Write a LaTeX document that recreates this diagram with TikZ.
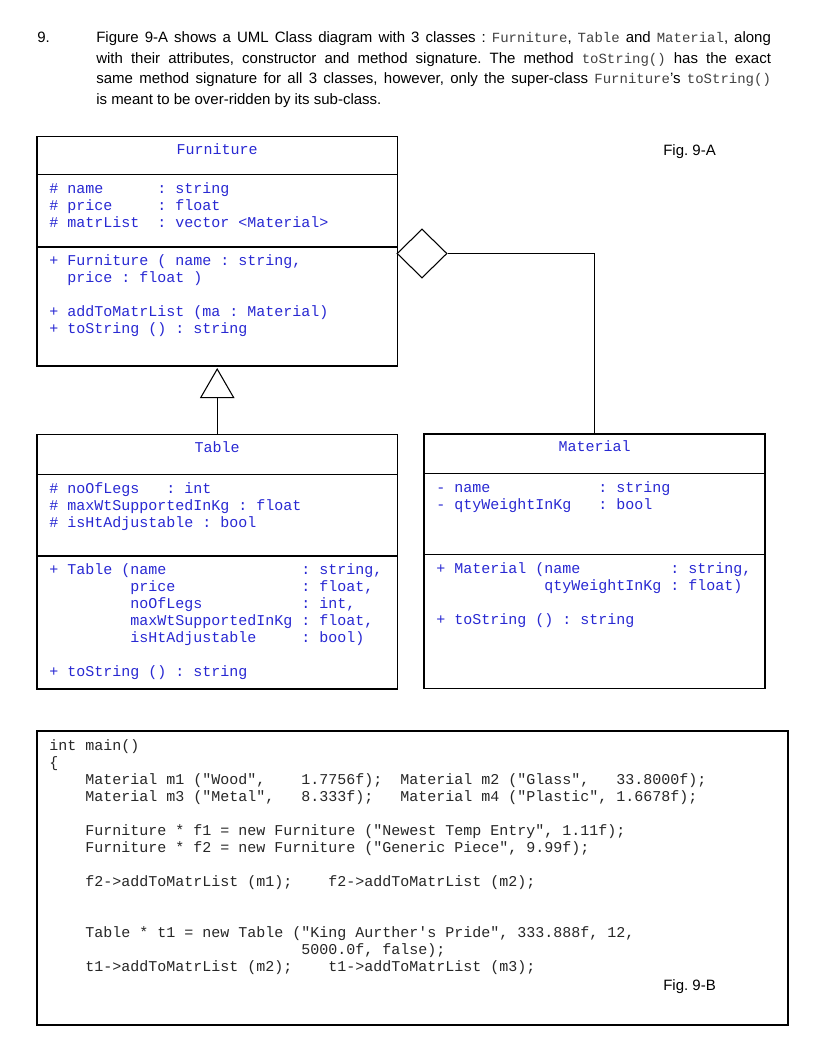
\documentclass[tikz,border=0pt]{standalone}
\usepackage{fontspec}
\setmainfont{Liberation Sans}
\setmonofont{Liberation Mono}
\usetikzlibrary{shapes.geometric}
\definecolor{umlblue}{RGB}{40,40,210}
\newcommand{\umlfont}{\ttfamily\fontsize{11.25pt}{12.75pt}\selectfont}
\newcommand{\codefont}{\ttfamily\fontsize{11.25pt}{12.75pt}\selectfont}
\newcommand{\qfont}{\fontsize{11.25pt}{15.45pt}\selectfont\frenchspacing}
\newcommand{\cd}[1]{{\ttfamily\fontsize{10.5pt}{15.45pt}\selectfont\color{black!75}#1}}

\begin{document}
\begin{tikzpicture}[x=0.75pt,y=-0.75pt,
    classbox/.style={draw,line width=1.2pt,anchor=north west,outer sep=0pt},
    divider/.style={line width=1.2pt},
    link/.style={line width=0.8pt},
    umltitle/.style={anchor=base,font=\umlfont,text=umlblue},
    members/.style={anchor=north west,align=left,font=\umlfont,text=umlblue},
    figlabel/.style={anchor=base west,font=\qfont}]
  \tikzstyle{every node}+=[inner sep=0pt]
  \useasboundingbox (0,0) rectangle (820,1039);

  \node[anchor=base west,font=\qfont] (qnum) at (37,42.5) {9.};
  \node[anchor=north west,text width=506pt,align=justify,font=\qfont] (qtext) at (96,28.1)
    {\noindent\strut Figure 9-A shows a UML Class diagram with 3 classes : \cd{Furniture}, \cd{Table} and \cd{Material}, along\linebreak
     with their attributes, constructor and method signature. The method \cd{toString()} has the exact\linebreak
     same method signature for all 3 classes, however, only the super-class \cd{Furniture}'s \cd{toString()}\linebreak
     is meant to be over-ridden by its sub-class.};
  \node[figlabel] (figA) at (663,155) {Fig. 9-A};

  % Furniture
  \node[classbox,minimum width=270.4pt,minimum height=171.9pt] (furn) at (37,136.5) {};
  \draw[divider] (37,174.5) -- (397.5,174.5);
  \draw[divider] (37,246.7) -- (397.5,246.7);
  \node[umltitle] (furnTitle) at (217.2,154.5) {Furniture};
  \node[members] (furnAttr) at (49,181.6)
    {\strut\#~name~~~~~~:~string\\
     \#~price~~~~~:~float\\
     \#~matrList~~:~vector~<Material>};
  \node[members] (furnOps) at (49,253.6)
    {\strut+~Furniture~(~name~:~string,\\
     ~~price~:~float~)\\
     ~\\
     +~addToMatrList~(ma~:~Material)\\
     +~toString~()~:~string};

  % Table
  \node[classbox,minimum width=270.4pt,minimum height=190.9pt] (tab) at (37,434.5) {};
  \draw[divider] (37,474.3) -- (397.5,474.3);
  \draw[divider] (37,555.7) -- (397.5,555.7);
  \node[umltitle] (tabTitle) at (217.2,452.5) {Table};
  \node[members] (tabAttr) at (49,481.6)
    {\strut\#~noOfLegs~~~:~int\\
     \#~maxWtSupportedInKg~:~float\\
     \#~isHtAdjustable~:~bool};
  \node[members] (tabOps) at (49,562.6)
    {\strut+~Table~(name~~~~~~~~~~~~~~~:~string,\\
     ~~~~~~~~~price~~~~~~~~~~~~~~:~float,\\
     ~~~~~~~~~noOfLegs~~~~~~~~~~~:~int,\\
     ~~~~~~~~~maxWtSupportedInKg~:~float,\\
     ~~~~~~~~~isHtAdjustable~~~~~:~bool)\\
     ~\\
     +~toString~()~:~string};

  % Material
  \node[classbox,minimum width=255.75pt,minimum height=191pt] (mat) at (424,434) {};
  \draw[divider] (424,473.3) -- (765,473.3);
  \draw[divider] (424,554.3) -- (765,554.3);
  \node[umltitle] (matTitle) at (594.5,451.5) {Material};
  \node[members] (matAttr) at (436,480.6)
    {\strut-~name~~~~~~~~~~~~:~string\\
     -~qtyWeightInKg~~~:~bool};
  \node[members] (matOps) at (436,561.6)
    {\strut+~Material~(name~~~~~~~~~~:~string,\\
     ~~~~~~~~~~~~qtyWeightInKg~:~float)\\
     ~\\
     +~toString~()~:~string};

  % relations
  \node[diamond,draw,line width=0.8pt,minimum width=37.5pt,minimum height=36.75pt] (agg) at (422,253.5) {};
  \node[regular polygon,regular polygon sides=3,draw,line width=0.8pt,minimum size=28.6pt,anchor=corner 1] (inh) at (217.2,368) {};
  \draw[link] (agg.east) -| (mat.north);
  \draw[link] (inh.south) -- (inh.south |- tab.north);

  % code
  \node[classbox,line width=1.5pt,minimum width=563.25pt,minimum height=220.5pt] (codebox) at (37,731) {};
  \node[anchor=north west,align=left,font=\codefont,text=black!85] (code) at (49,738.6)
    {\strut int main()\\
     \{\\
     ~~~~Material m1 ("Wood",~~~~1.7756f);~~Material m2 ("Glass",~~~33.8000f);\\
     ~~~~Material m3 ("Metal",~~~8.333f);~~~Material m4 ("Plastic", 1.6678f);\\
     ~\\
     ~~~~Furniture * f1 = new Furniture ("Newest Temp Entry", 1.11f);\\
     ~~~~Furniture * f2 = new Furniture ("Generic Piece", 9.99f);\\
     ~\\
     ~~~~f2->addToMatrList (m1);~~~~f2->addToMatrList (m2);\\
     ~\\
     ~\\
     ~~~~Table * t1 = new Table ("King Aurther's Pride", 333.888f, 12,\\
     ~~~~~~~~~~~~~~~~~~~~~~~~~~~~5000.0f, false);\\
     ~~~~t1->addToMatrList (m2);~~~~t1->addToMatrList (m3);};
  \node[figlabel] (figB) at (663,990) {Fig. 9-B};
\end{tikzpicture}
\end{document}
